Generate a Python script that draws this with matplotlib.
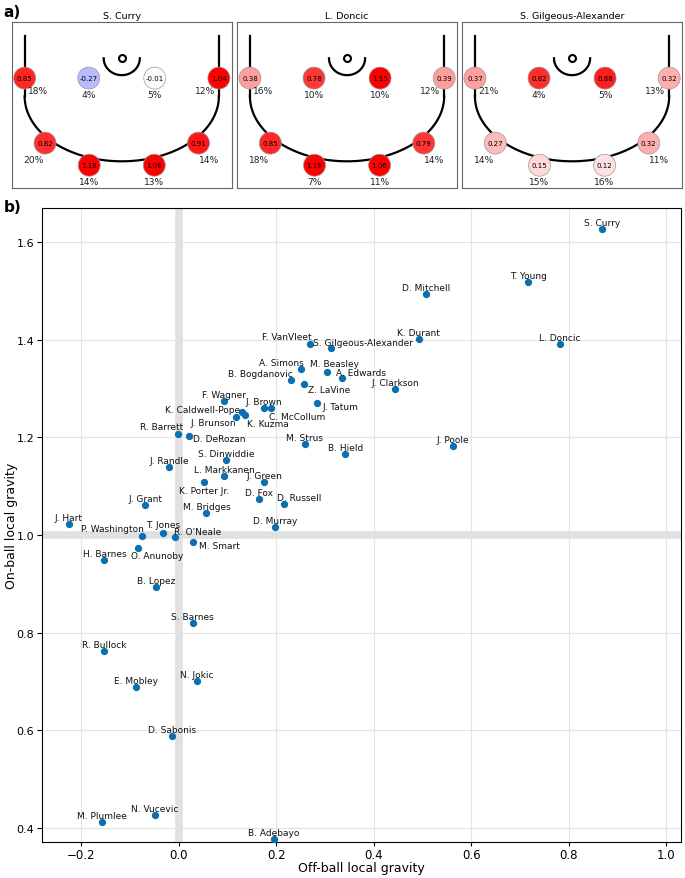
import numpy as np
import matplotlib
matplotlib.use("Agg")
import matplotlib.pyplot as plt

# ---- panel a) shot zones ----
court_players = ["S. Curry", "L. Doncic", "S. Gilgeous-Alexander"]
# zone order: L corner, L elbow, R elbow, R corner, L wing, L top, R top, R wing
zone_x = [-1.0, -0.34, 0.34, 1.0, -0.79, -0.335, 0.335, 0.79]
zone_y = [0.28, 0.28, 0.28, 0.28, -0.72, -1.06, -1.06, -0.72]
zone_values = [
    [0.85, -0.27, -0.01, 1.04, 0.82, 1.18, 1.08, 0.91],
    [0.38, 0.78, 1.15, 0.39, 0.85, 1.19, 1.06, 0.79],
    [0.37, 0.82, 0.88, 0.32, 0.27, 0.15, 0.12, 0.32],
]
zone_pct = [
    [18, 4, 5, 12, 20, 14, 13, 14],
    [16, 10, 10, 12, 18, 7, 11, 14],
    [21, 4, 5, 13, 14, 15, 16, 11],
]
pct_offsets = [(9.5, -8.6), (0, -12), (0, -12), (-10, -8.6),
               (-8, -12), (0, -12), (0, -12), (7.5, -12)]

# ---- panel b) local gravity ----
players = ["S. Curry", "T. Young", "D. Mitchell", "K. Durant", "L. Doncic",
           "F. VanVleet", "S. Gilgeous-Alexander", "A. Simons", "M. Beasley",
           "A. Edwards", "B. Bogdanovic", "Z. LaVine", "J. Clarkson", "F. Wagner",
           "J. Tatum", "J. Brown", "C. McCollum", "K. Caldwell-Pope", "K. Kuzma",
           "J. Brunson", "R. Barrett", "D. DeRozan", "M. Strus", "J. Poole",
           "B. Hield", "S. Dinwiddie", "J. Randle", "L. Markkanen", "J. Green",
           "K. Porter Jr.", "D. Fox", "D. Russell", "J. Grant", "M. Bridges",
           "J. Hart", "D. Murray", "T. Jones", "P. Washington", "R. O'Neale",
           "M. Smart", "O. Anunoby", "H. Barnes", "B. Lopez", "S. Barnes",
           "R. Bullock", "N. Jokic", "E. Mobley", "D. Sabonis", "N. Vucevic",
           "M. Plumlee", "B. Adebayo"]
off_ball = [0.869, 0.717, 0.507, 0.492, 0.781,
            0.269, 0.313, 0.250, 0.305,
            0.336, 0.230, 0.257, 0.444, 0.094,
            0.284, 0.175, 0.190, 0.130, 0.137,
            0.118, -0.001, 0.021, 0.259, 0.562,
            0.342, 0.098, -0.020, 0.093, 0.175,
            0.052, 0.165, 0.217, -0.068, 0.057,
            -0.225, 0.198, -0.031, -0.074, -0.007,
            0.029, -0.083, -0.152, -0.046, 0.029,
            -0.153, 0.037, -0.087, -0.013, -0.048,
            -0.158, 0.195]
on_ball = [1.626, 1.518, 1.493, 1.402, 1.391,
           1.392, 1.384, 1.340, 1.333,
           1.321, 1.318, 1.309, 1.299, 1.275,
           1.271, 1.260, 1.260, 1.253, 1.246,
           1.242, 1.206, 1.203, 1.187, 1.182,
           1.165, 1.154, 1.140, 1.121, 1.108,
           1.108, 1.074, 1.064, 1.062, 1.045,
           1.022, 1.016, 1.005, 0.997, 0.995,
           0.986, 0.974, 0.949, 0.893, 0.819,
           0.762, 0.701, 0.689, 0.589, 0.426,
           0.413, 0.378]

# label placement (ha, dx px, dy px); default centered above the dot
label_pos = {
    "F. VanVleet": ("right", 2, 5),
    "S. Gilgeous-Alexander": ("left", -18, 3),
    "A. Simons": ("right", 3, 4),
    "M. Beasley": ("left", -17, 6),
    "A. Edwards": ("left", -6, 3),
    "B. Bogdanovic": ("right", 2, 4),
    "Z. LaVine": ("left", 4, -8),
    "J. Tatum": ("left", 5, -6),
    "C. McCollum": ("left", -2, -11),
    "K. Caldwell-Pope": ("right", -2, 0),
    "K. Kuzma": ("left", 2, -11),
    "J. Brunson": ("right", 0, -8),
    "R. Barrett": ("right", 5, 5),
    "D. DeRozan": ("left", 4, -5),
    "K. Porter Jr.": ("center", 0, -11),
    "D. Russell": ("left", -7, 4),
    "M. Smart": ("left", 6, -6),
    "R. O'Neale": ("left", -1, 3),
    "T. Jones": ("center", 0, 6),
    "P. Washington": ("right", 1, 5),
    "O. Anunoby": ("left", -7, -10),
}

fig = plt.figure(figsize=(6.85, 8.79), dpi=100)

# ---------- court panels ----------
court_lefts = [12 / 685, 237.3 / 685, 462.3 / 685]
for i, name in enumerate(court_players):
    ax = fig.add_axes([court_lefts[i], 1 - 189.3 / 879, 219.5 / 685, 166 / 879])
    ax.set_xlim(-1.13, 1.13)
    ax.set_ylim(-1.415, 1.138)
    ax.set_xticks([])
    ax.set_yticks([])
    for s in ax.spines.values():
        s.set_color("#666666")
        s.set_linewidth(0.8)
    ax.set_title(name, fontsize=6.8, pad=3)

    t = np.linspace(0, np.pi, 200)
    ax.plot(np.cos(t), -np.sin(t), color="black", lw=1.6)
    ax.plot([-1, -1], [0, 0.923], color="black", lw=1.6)
    ax.plot([1, 1], [0, 0.923], color="black", lw=1.6)
    ax.plot(0.186 * np.cos(t), 0.585 - 0.26 * np.sin(t), color="black", lw=1.6)
    ax.plot([0], [0.59], marker="o", ms=5, mfc="white", mec="black", mew=1.5)

    ax.scatter(zone_x, zone_y, c=zone_values[i], cmap="bwr", vmin=-1, vmax=1,
               s=250, edgecolors="#999999", linewidths=0.5, zorder=3, clip_on=False)
    for j in range(len(zone_x)):
        ax.text(zone_x[j], zone_y[j], f"{zone_values[i][j]:.2f}", fontsize=5,
                ha="center", va="center", zorder=4)
        ax.annotate(f"{zone_pct[i][j]}%", (zone_x[j], zone_y[j]),
                    xytext=pct_offsets[j], textcoords="offset points",
                    ha="center", va="center", fontsize=6.6, color="#222222")

fig.text(0.005, 0.986, "a)", fontsize=11, fontweight="bold", va="center")
fig.text(0.005, 0.764, "b)", fontsize=11, fontweight="bold", va="center")

# ---------- scatter ----------
ax = fig.add_axes([42 / 685, 1 - 843 / 879, 639 / 685, 634 / 879])
ax.axvline(0, color="#d9d9d9", lw=5.5, alpha=0.8, zorder=0)
ax.axhline(1.0, color="#d9d9d9", lw=5.5, alpha=0.8, zorder=0)
ax.grid(True, color="#e3e3e3", lw=0.8, zorder=0)
ax.set_axisbelow(True)
ax.scatter(off_ball, on_ball, s=18, color="#0a6fb4", zorder=3)

px2pt = 0.72
for name, x, y in zip(players, off_ball, on_ball):
    ha, dx, dy = label_pos.get(name, ("center", 0, 4))
    ax.annotate(name, (x, y), xytext=(dx * px2pt, dy * px2pt),
                textcoords="offset points", ha=ha, va="baseline",
                fontsize=6.5, color="#111111", zorder=4)

ax.set_xlim(-0.28, 1.03)
ax.set_ylim(0.371, 1.67)
ax.set_xticks([-0.2, 0.0, 0.2, 0.4, 0.6, 0.8, 1.0])
ax.set_yticks([0.4, 0.6, 0.8, 1.0, 1.2, 1.4, 1.6])
ax.tick_params(axis="x", labelsize=8.5, pad=1.5, length=3)
ax.tick_params(axis="y", labelsize=8, pad=2)
ax.set_xlabel("Off-ball local gravity", fontsize=9)
ax.set_ylabel("On-ball local gravity", fontsize=9)
ax.xaxis.set_label_coords(0.5, -0.03)
ax.yaxis.set_label_coords(-0.038, 0.5)

fig.savefig("out.png", dpi=100)
